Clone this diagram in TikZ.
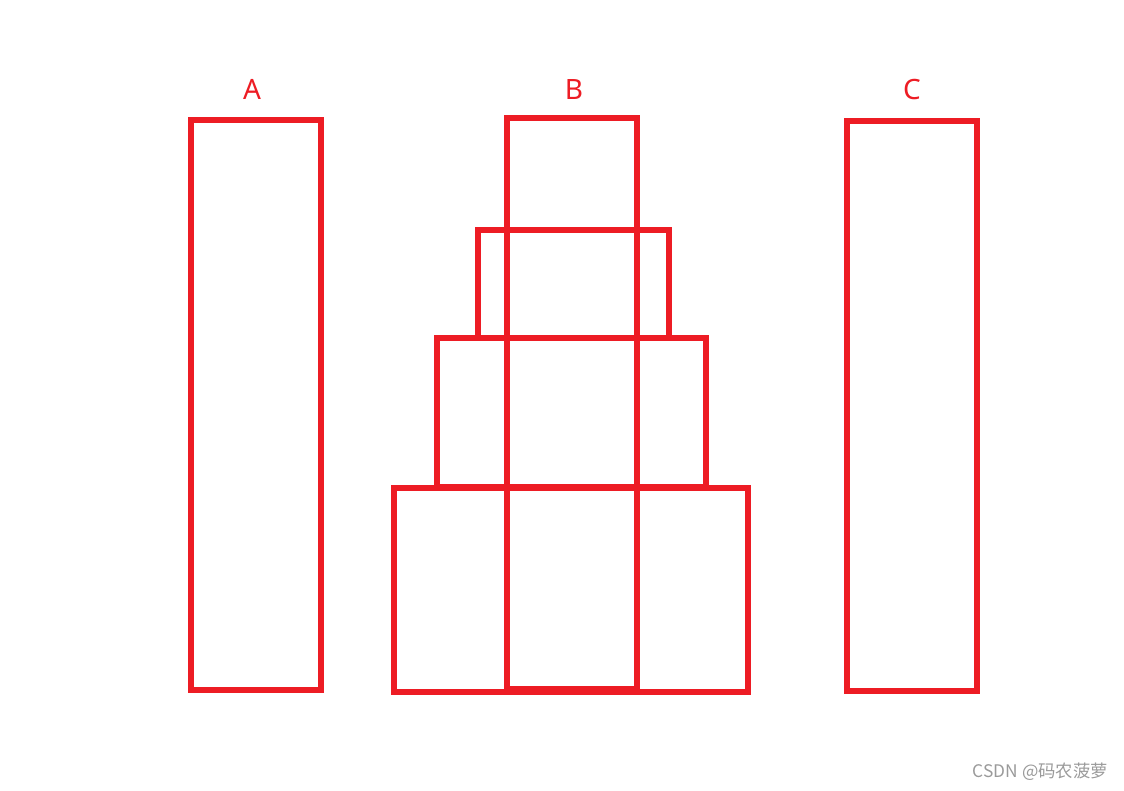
\documentclass[tikz,border=0pt]{standalone}
\usepackage{fontspec}
\setmainfont{Noto Sans}
\newfontfamily\cjk{Noto Sans CJK SC}
\usepackage{xcolor}
\definecolor{pegred}{HTML}{ED1C24}
\definecolor{markgray}{HTML}{9A9A9A}
\tikzset{
  peg/.style={draw=pegred, line width=3.9pt},
  plate/.style={draw=pegred, line width=3.9pt},
  pegname/.style={text=pegred, font=\fontsize{21}{25}\selectfont, inner sep=0pt}
}

\begin{document}
\begin{tikzpicture}[x=0.75pt, y=-0.75pt]
  \useasboundingbox (0,0) rectangle (1124,790);
  % pegs
  \node[pegname] (A) at (252,89) {A};
  \node[pegname] (B) at (574,89) {B};
  \node[pegname] (C) at (912,89) {C};
  \draw[peg] (191,120) rectangle (321,690);
  \draw[peg] (847,121) rectangle (977,691);
  % plates on B
  \draw[plate] (394,488) rectangle (748,692);
  \draw[plate] (437,338) rectangle (706,487);
  \draw[plate] (478,230) rectangle (669,338);
  \draw[peg] (507,118) rectangle (637,689);
  % watermark
  \node[anchor=east, text=markgray, font=\cjk\fontsize{13}{15}\selectfont, inner sep=0pt]
    (mark) at (1108,772) {CSDN @码农菠萝};
\end{tikzpicture}
\end{document}
